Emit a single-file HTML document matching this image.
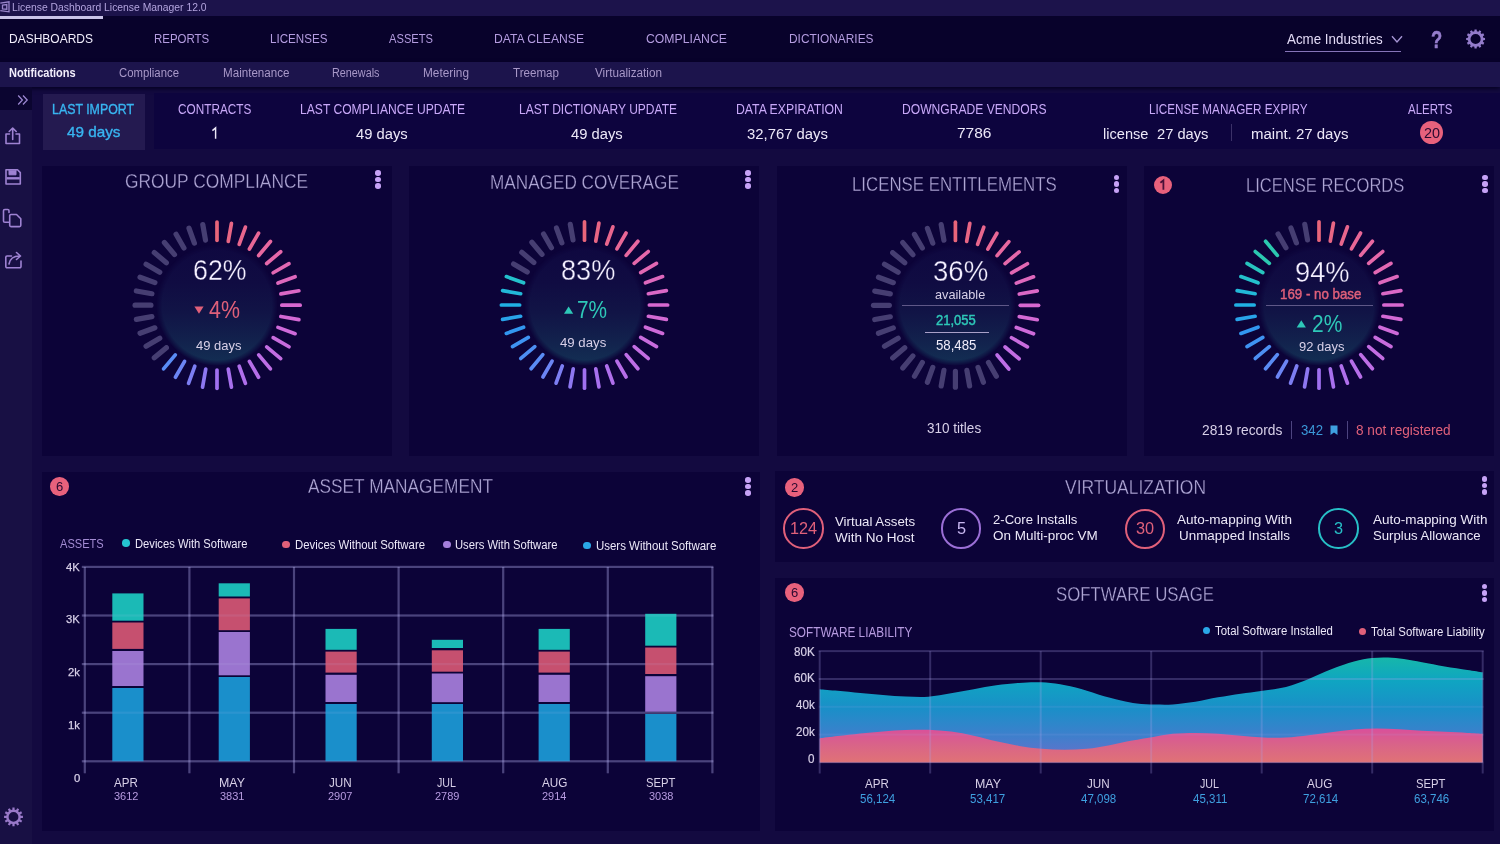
<!DOCTYPE html>
<html><head><meta charset="utf-8"><title>License Dashboard</title>
<style>
html,body{margin:0;padding:0;overflow:hidden;}
html{width:1500px;height:844px;background:#130a40;}
body{width:1500px;height:844px;overflow:hidden;background:#130a40;font-family:"Liberation Sans",sans-serif;position:relative;}
.t{position:absolute;white-space:nowrap;transform-origin:0 50%;}
.r{position:absolute;}
svg{position:absolute;left:0;top:0;overflow:visible;}
</style></head><body>

<div class="r" style="left:0px;top:0px;width:1500px;height:16px;background:#1c134b;"></div>
<div class="r" style="left:0px;top:16px;width:1500px;height:46px;background:#08022b;"></div>
<div class="r" style="left:0px;top:62px;width:1500px;height:24.5px;background:#1c144c;box-shadow:0 2px 4px rgba(4,0,30,0.85);"></div>
<div class="r" style="left:0px;top:16.2px;width:103px;height:2.8px;background:#c9c3e8;"></div>
<div class="t" style="left:12.40px;top:1.82px;font-size:10.8px;line-height:10.8px;color:#b3a4de;transform:scaleX(0.9589);">License Dashboard License Manager 12.0</div>
<div class="t" style="left:8.80px;top:32.31px;font-size:13.5px;line-height:13.5px;color:#f2eefc;transform:scaleX(0.8889);">DASHBOARDS</div>
<div class="t" style="left:154.40px;top:32.31px;font-size:13.5px;line-height:13.5px;color:#b49ce0;transform:scaleX(0.8492);">REPORTS</div>
<div class="t" style="left:270.00px;top:32.31px;font-size:13.5px;line-height:13.5px;color:#b49ce0;transform:scaleX(0.8613);">LICENSES</div>
<div class="t" style="left:389.00px;top:32.31px;font-size:13.5px;line-height:13.5px;color:#b49ce0;transform:scaleX(0.8262);">ASSETS</div>
<div class="t" style="left:494.00px;top:32.31px;font-size:13.5px;line-height:13.5px;color:#b49ce0;transform:scaleX(0.8997);">DATA CLEANSE</div>
<div class="t" style="left:646.00px;top:32.31px;font-size:13.5px;line-height:13.5px;color:#b49ce0;transform:scaleX(0.9070);">COMPLIANCE</div>
<div class="t" style="left:789.00px;top:32.31px;font-size:13.5px;line-height:13.5px;color:#b49ce0;transform:scaleX(0.8803);">DICTIONARIES</div>
<div class="t" style="left:8.80px;top:67.14px;font-size:12px;line-height:12px;color:#f2eefc;font-weight:700;transform:scaleX(0.9180);">Notifications</div>
<div class="t" style="left:119.00px;top:67.14px;font-size:12px;line-height:12px;color:#a898c8;transform:scaleX(0.9470);">Compliance</div>
<div class="t" style="left:222.50px;top:67.14px;font-size:12px;line-height:12px;color:#a898c8;transform:scaleX(0.9680);">Maintenance</div>
<div class="t" style="left:331.50px;top:67.14px;font-size:12px;line-height:12px;color:#a898c8;transform:scaleX(0.9017);">Renewals</div>
<div class="t" style="left:422.50px;top:67.14px;font-size:12px;line-height:12px;color:#a898c8;transform:scaleX(0.9854);">Metering</div>
<div class="t" style="left:512.50px;top:67.14px;font-size:12px;line-height:12px;color:#a898c8;transform:scaleX(0.9668);">Treemap</div>
<div class="t" style="left:595.00px;top:67.14px;font-size:12px;line-height:12px;color:#a898c8;transform:scaleX(0.9787);">Virtualization</div>
<div class="t" style="left:1287.00px;top:32.26px;font-size:14px;line-height:14px;color:#e2daf6;transform:scaleX(0.9544);">Acme Industries</div>
<div class="r" style="left:1285.2px;top:50.9px;width:115.8px;height:1.6px;background:#8574b8;"></div>
<div class="r" style="left:0px;top:86.5px;width:32px;height:757.5px;background:#181044;"></div>
<div class="r" style="left:0px;top:87px;width:32px;height:22.5px;background:#0b0530;"></div>
<div class="r" style="left:42.6px;top:93.5px;width:102.4px;height:56px;background:#241a50;"></div>
<div class="r" style="left:153.5px;top:93px;width:1346.5px;height:55.5px;background:#0d043e;"></div>
<div class="t" style="left:52.10px;top:103.06px;font-size:13.8px;line-height:13.8px;color:#38b4f0;transform:scaleX(0.8973);-webkit-text-stroke:0.35px #38b4f0;">LAST IMPORT</div>
<div class="t" style="left:66.80px;top:125.32px;font-size:14.5px;line-height:14.5px;color:#38b4f0;transform:scaleX(1.0527);-webkit-text-stroke:0.35px #38b4f0;">49 days</div>
<div class="t" style="left:177.50px;top:102.86px;font-size:13.8px;line-height:13.8px;color:#c8a8f8;transform:scaleX(0.8540);">CONTRACTS</div>
<div class="t" style="left:299.80px;top:102.86px;font-size:13.8px;line-height:13.8px;color:#c8a8f8;transform:scaleX(0.8780);">LAST COMPLIANCE UPDATE</div>
<div class="t" style="left:518.50px;top:102.86px;font-size:13.8px;line-height:13.8px;color:#c8a8f8;transform:scaleX(0.8707);">LAST DICTIONARY UPDATE</div>
<div class="t" style="left:736.00px;top:102.86px;font-size:13.8px;line-height:13.8px;color:#c8a8f8;transform:scaleX(0.8887);">DATA EXPIRATION</div>
<div class="t" style="left:901.50px;top:102.86px;font-size:13.8px;line-height:13.8px;color:#c8a8f8;transform:scaleX(0.8766);">DOWNGRADE VENDORS</div>
<div class="t" style="left:1149.00px;top:102.86px;font-size:13.8px;line-height:13.8px;color:#c8a8f8;transform:scaleX(0.8483);">LICENSE MANAGER EXPIRY</div>
<div class="t" style="left:1408.40px;top:102.86px;font-size:13.8px;line-height:13.8px;color:#c8a8f8;transform:scaleX(0.8314);">ALERTS</div>
<svg width="1500" height="844"><path d="M212.4 130.6 L215.6 127.9 V138.8" fill="none" stroke="#ece8f8" stroke-width="1.45" stroke-linejoin="miter"/></svg>
<div class="t" style="left:356.10px;top:125.77px;font-size:15.2px;line-height:15.2px;color:#ece8f8;transform:scaleX(0.9704);">49 days</div>
<div class="t" style="left:571.00px;top:125.77px;font-size:15.2px;line-height:15.2px;color:#ece8f8;transform:scaleX(0.9704);">49 days</div>
<div class="t" style="left:747.00px;top:125.77px;font-size:15.2px;line-height:15.2px;color:#ece8f8;transform:scaleX(0.9778);">32,767 days</div>
<div class="t" style="left:957.00px;top:125.17px;font-size:15.2px;line-height:15.2px;color:#ece8f8;transform:scaleX(1.0201);">7786</div>
<div class="t" style="left:1102.50px;top:125.97px;font-size:15.2px;line-height:15.2px;color:#ece8f8;transform:scaleX(0.9610);">license</div>
<div class="t" style="left:1157.00px;top:125.97px;font-size:15.2px;line-height:15.2px;color:#ece8f8;transform:scaleX(0.9667);">27 days</div>
<div class="t" style="left:1251.00px;top:125.97px;font-size:15.2px;line-height:15.2px;color:#ece8f8;transform:scaleX(0.9861);">maint. 27 days</div>
<div class="r" style="left:1231px;top:124px;width:1px;height:17px;background:#3b3168;"></div>
<div class="r" style="left:1420px;top:121px;width:23px;height:23px;border-radius:50%;background:#e8617c;"></div>
<div class="t" style="left:1423.50px;top:125.76px;font-size:14px;line-height:14px;color:#2a0a30;transform:scaleX(1.0296);">20</div>
<div class="r" style="left:42px;top:166px;width:350.2px;height:290px;background:#0c0338;"></div>
<div class="r" style="left:409px;top:166px;width:350.2px;height:290px;background:#0c0338;"></div>
<div class="r" style="left:777px;top:166px;width:350.2px;height:290px;background:#0c0338;"></div>
<div class="r" style="left:1143.8px;top:166px;width:350.2px;height:290px;background:#0c0338;"></div>
<div class="r" style="left:41.5px;top:471.5px;width:718px;height:359.5px;background:#0c0338;"></div>
<div class="r" style="left:775px;top:471px;width:719px;height:90.5px;background:#0c0338;"></div>
<div class="r" style="left:775px;top:578px;width:719px;height:253px;background:#0c0338;"></div>
<div class="t" style="left:125.10px;top:170.63px;font-size:20px;line-height:20px;color:#aea6d4;transform:scaleX(0.8686);-webkit-text-stroke:0.3px #0c0338;">GROUP COMPLIANCE</div>
<div class="r" style="left:375.05px;top:170.2px;width:5.5px;height:5.5px;border-radius:50%;background:#c6a2f6;"></div>
<div class="r" style="left:375.05px;top:176.8px;width:5.5px;height:5.5px;border-radius:50%;background:#c6a2f6;"></div>
<div class="r" style="left:375.05px;top:183.3px;width:5.5px;height:5.5px;border-radius:50%;background:#c6a2f6;"></div>
<div class="t" style="left:489.90px;top:172.13px;font-size:20px;line-height:20px;color:#aea6d4;transform:scaleX(0.8582);-webkit-text-stroke:0.3px #0c0338;">MANAGED COVERAGE</div>
<div class="r" style="left:745.25px;top:170.2px;width:5.5px;height:5.5px;border-radius:50%;background:#c6a2f6;"></div>
<div class="r" style="left:745.25px;top:176.8px;width:5.5px;height:5.5px;border-radius:50%;background:#c6a2f6;"></div>
<div class="r" style="left:745.25px;top:183.3px;width:5.5px;height:5.5px;border-radius:50%;background:#c6a2f6;"></div>
<div class="t" style="left:851.50px;top:174.03px;font-size:20px;line-height:20px;color:#aea6d4;transform:scaleX(0.8414);-webkit-text-stroke:0.3px #0c0338;">LICENSE ENTITLEMENTS</div>
<div class="r" style="left:1113.75px;top:174.8px;width:5.5px;height:5.5px;border-radius:50%;background:#c6a2f6;"></div>
<div class="r" style="left:1113.75px;top:181.3px;width:5.5px;height:5.5px;border-radius:50%;background:#c6a2f6;"></div>
<div class="r" style="left:1113.75px;top:187.9px;width:5.5px;height:5.5px;border-radius:50%;background:#c6a2f6;"></div>
<div class="t" style="left:1246.10px;top:175.13px;font-size:20px;line-height:20px;color:#aea6d4;transform:scaleX(0.8285);-webkit-text-stroke:0.3px #0c0338;">LICENSE RECORDS</div>
<div class="r" style="left:1482.05px;top:174.6px;width:5.5px;height:5.5px;border-radius:50%;background:#c6a2f6;"></div>
<div class="r" style="left:1482.05px;top:181.2px;width:5.5px;height:5.5px;border-radius:50%;background:#c6a2f6;"></div>
<div class="r" style="left:1482.05px;top:187.8px;width:5.5px;height:5.5px;border-radius:50%;background:#c6a2f6;"></div>
<div class="r" style="left:1153.7px;top:175.5px;width:18.6px;height:18.6px;border-radius:50%;background:#e8617c;"></div>
<svg width="1500" height="844"><path d="M1160.4 182.8 L1163.4 180.4 V189.7" fill="none" stroke="#4a1038" stroke-width="1.8"/></svg>
<div class="t" style="left:308.00px;top:475.93px;font-size:20px;line-height:20px;color:#aea6d4;transform:scaleX(0.8641);-webkit-text-stroke:0.3px #0c0338;">ASSET MANAGEMENT</div>
<div class="r" style="left:745.45px;top:477.0px;width:5.5px;height:5.5px;border-radius:50%;background:#c6a2f6;"></div>
<div class="r" style="left:745.45px;top:483.6px;width:5.5px;height:5.5px;border-radius:50%;background:#c6a2f6;"></div>
<div class="r" style="left:745.45px;top:490.2px;width:5.5px;height:5.5px;border-radius:50%;background:#c6a2f6;"></div>
<div class="r" style="left:50.2px;top:477.2px;width:18.6px;height:18.6px;border-radius:50%;background:#e8617c;"></div>
<div class="t" style="left:55.88px;top:480.45px;font-size:13px;line-height:13px;color:#2a0a30;transform:scaleX(1.0021);">6</div>
<div class="t" style="left:1065.00px;top:476.93px;font-size:20px;line-height:20px;color:#aea6d4;transform:scaleX(0.8731);-webkit-text-stroke:0.3px #0c0338;">VIRTUALIZATION</div>
<div class="r" style="left:1481.95px;top:476.0px;width:5.5px;height:5.5px;border-radius:50%;background:#c6a2f6;"></div>
<div class="r" style="left:1481.95px;top:482.6px;width:5.5px;height:5.5px;border-radius:50%;background:#c6a2f6;"></div>
<div class="r" style="left:1481.95px;top:489.2px;width:5.5px;height:5.5px;border-radius:50%;background:#c6a2f6;"></div>
<div class="r" style="left:785.1px;top:478.1px;width:18.6px;height:18.6px;border-radius:50%;background:#e8617c;"></div>
<div class="t" style="left:790.78px;top:481.35px;font-size:13px;line-height:13px;color:#2a0a30;transform:scaleX(1.0021);">2</div>
<div class="t" style="left:1056.00px;top:583.93px;font-size:20px;line-height:20px;color:#aea6d4;transform:scaleX(0.8395);-webkit-text-stroke:0.3px #0c0338;">SOFTWARE USAGE</div>
<div class="r" style="left:1481.95px;top:583.6px;width:5.5px;height:5.5px;border-radius:50%;background:#c6a2f6;"></div>
<div class="r" style="left:1481.95px;top:590.2px;width:5.5px;height:5.5px;border-radius:50%;background:#c6a2f6;"></div>
<div class="r" style="left:1481.95px;top:596.9px;width:5.5px;height:5.5px;border-radius:50%;background:#c6a2f6;"></div>
<div class="r" style="left:785.1px;top:583.1px;width:18.6px;height:18.6px;border-radius:50%;background:#e8617c;"></div>
<div class="t" style="left:790.78px;top:586.35px;font-size:13px;line-height:13px;color:#2a0a30;transform:scaleX(1.0021);">6</div>
<div class="r" style="left:156px;top:244.2px;width:122px;height:122px;border-radius:50%;background:linear-gradient(180deg,#0f0840 0%,#100c42 32%,#111446 56%,#12224d 80%,#133054 100%);-webkit-mask-image:radial-gradient(circle closest-side,#000 90%,transparent 100%);mask-image:radial-gradient(circle closest-side,#000 90%,transparent 100%);"></div>
<svg width="1500" height="844"><line x1="217.00" y1="240.35" x2="217.00" y2="222.05" stroke="#e8657a" stroke-width="3.7" stroke-linecap="round" opacity="1"/><line x1="228.26" y1="241.34" x2="231.44" y2="223.31" stroke="#e86684" stroke-width="3.7" stroke-linecap="round" opacity="1"/><line x1="239.18" y1="244.26" x2="245.44" y2="227.06" stroke="#e8668d" stroke-width="3.7" stroke-linecap="round" opacity="1"/><line x1="249.42" y1="249.04" x2="258.57" y2="233.19" stroke="#e86796" stroke-width="3.7" stroke-linecap="round" opacity="1"/><line x1="258.68" y1="255.52" x2="270.45" y2="241.50" stroke="#e868a0" stroke-width="3.7" stroke-linecap="round" opacity="1"/><line x1="266.68" y1="263.52" x2="280.70" y2="251.75" stroke="#e568aa" stroke-width="3.7" stroke-linecap="round" opacity="1"/><line x1="273.16" y1="272.77" x2="289.01" y2="263.62" stroke="#e268b3" stroke-width="3.7" stroke-linecap="round" opacity="1"/><line x1="277.94" y1="283.02" x2="295.14" y2="276.76" stroke="#de68bd" stroke-width="3.7" stroke-linecap="round" opacity="1"/><line x1="280.86" y1="293.94" x2="298.89" y2="290.76" stroke="#db68c6" stroke-width="3.7" stroke-linecap="round" opacity="1"/><line x1="281.85" y1="305.20" x2="300.15" y2="305.20" stroke="#d868d0" stroke-width="3.7" stroke-linecap="round" opacity="1"/><line x1="280.86" y1="316.46" x2="298.89" y2="319.64" stroke="#d369d4" stroke-width="3.7" stroke-linecap="round" opacity="1"/><line x1="277.94" y1="327.38" x2="295.14" y2="333.64" stroke="#ce6ad9" stroke-width="3.7" stroke-linecap="round" opacity="1"/><line x1="273.16" y1="337.62" x2="289.01" y2="346.77" stroke="#c86cdd" stroke-width="3.7" stroke-linecap="round" opacity="1"/><line x1="266.68" y1="346.88" x2="280.70" y2="358.65" stroke="#c36de2" stroke-width="3.7" stroke-linecap="round" opacity="1"/><line x1="258.68" y1="354.88" x2="270.45" y2="368.90" stroke="#be6ee6" stroke-width="3.7" stroke-linecap="round" opacity="1"/><line x1="249.42" y1="361.36" x2="258.57" y2="377.21" stroke="#b66ee8" stroke-width="3.7" stroke-linecap="round" opacity="1"/><line x1="239.18" y1="366.14" x2="245.44" y2="383.34" stroke="#af6feb" stroke-width="3.7" stroke-linecap="round" opacity="1"/><line x1="228.26" y1="369.06" x2="231.44" y2="387.09" stroke="#a870ee" stroke-width="3.7" stroke-linecap="round" opacity="1"/><line x1="217.00" y1="370.05" x2="217.00" y2="388.35" stroke="#a070f0" stroke-width="3.7" stroke-linecap="round" opacity="1"/><line x1="205.74" y1="369.06" x2="202.56" y2="387.09" stroke="#8e77f1" stroke-width="3.7" stroke-linecap="round" opacity="1"/><line x1="194.82" y1="366.14" x2="188.56" y2="383.34" stroke="#7d7ef2" stroke-width="3.7" stroke-linecap="round" opacity="1"/><line x1="184.57" y1="361.36" x2="175.42" y2="377.21" stroke="#6c85f4" stroke-width="3.7" stroke-linecap="round" opacity="1"/><line x1="175.32" y1="354.88" x2="163.55" y2="368.90" stroke="#5a8cf5" stroke-width="3.7" stroke-linecap="round" opacity="1"/><line x1="166.36" y1="347.69" x2="154.26" y2="357.84" stroke="#4a4276" stroke-width="5.2" stroke-linecap="round" opacity="0.95"/><line x1="159.76" y1="338.25" x2="146.07" y2="346.15" stroke="#4a4276" stroke-width="5.2" stroke-linecap="round" opacity="0.95"/><line x1="154.89" y1="327.81" x2="140.04" y2="333.21" stroke="#4a4276" stroke-width="5.2" stroke-linecap="round" opacity="0.95"/><line x1="151.90" y1="316.68" x2="136.34" y2="319.42" stroke="#4a4276" stroke-width="5.2" stroke-linecap="round" opacity="0.95"/><line x1="150.90" y1="305.20" x2="135.10" y2="305.20" stroke="#4a4276" stroke-width="5.2" stroke-linecap="round" opacity="0.95"/><line x1="151.90" y1="293.72" x2="136.34" y2="290.98" stroke="#4a4276" stroke-width="5.2" stroke-linecap="round" opacity="0.95"/><line x1="154.89" y1="282.59" x2="140.04" y2="277.19" stroke="#4a4276" stroke-width="5.2" stroke-linecap="round" opacity="0.95"/><line x1="159.76" y1="272.15" x2="146.07" y2="264.25" stroke="#4a4276" stroke-width="5.2" stroke-linecap="round" opacity="0.95"/><line x1="166.36" y1="262.71" x2="154.26" y2="252.56" stroke="#4a4276" stroke-width="5.2" stroke-linecap="round" opacity="0.95"/><line x1="174.51" y1="254.56" x2="164.36" y2="242.46" stroke="#4a4276" stroke-width="5.2" stroke-linecap="round" opacity="0.95"/><line x1="183.95" y1="247.96" x2="176.05" y2="234.27" stroke="#4a4276" stroke-width="5.2" stroke-linecap="round" opacity="0.95"/><line x1="194.39" y1="243.09" x2="188.99" y2="228.24" stroke="#4a4276" stroke-width="5.2" stroke-linecap="round" opacity="0.95"/><line x1="205.52" y1="240.10" x2="202.78" y2="224.54" stroke="#4a4276" stroke-width="5.2" stroke-linecap="round" opacity="0.95"/></svg>
<div class="r" style="left:523.5px;top:244px;width:122px;height:122px;border-radius:50%;background:linear-gradient(180deg,#0f0840 0%,#100c42 32%,#111446 56%,#12224d 80%,#133054 100%);-webkit-mask-image:radial-gradient(circle closest-side,#000 90%,transparent 100%);mask-image:radial-gradient(circle closest-side,#000 90%,transparent 100%);"></div>
<svg width="1500" height="844"><line x1="584.50" y1="240.15" x2="584.50" y2="221.85" stroke="#e8657a" stroke-width="3.7" stroke-linecap="round" opacity="1"/><line x1="595.76" y1="241.14" x2="598.94" y2="223.11" stroke="#e86684" stroke-width="3.7" stroke-linecap="round" opacity="1"/><line x1="606.68" y1="244.06" x2="612.94" y2="226.86" stroke="#e8668d" stroke-width="3.7" stroke-linecap="round" opacity="1"/><line x1="616.92" y1="248.84" x2="626.08" y2="232.99" stroke="#e86796" stroke-width="3.7" stroke-linecap="round" opacity="1"/><line x1="626.18" y1="255.32" x2="637.95" y2="241.30" stroke="#e868a0" stroke-width="3.7" stroke-linecap="round" opacity="1"/><line x1="634.18" y1="263.32" x2="648.20" y2="251.55" stroke="#e568aa" stroke-width="3.7" stroke-linecap="round" opacity="1"/><line x1="640.66" y1="272.57" x2="656.51" y2="263.43" stroke="#e268b3" stroke-width="3.7" stroke-linecap="round" opacity="1"/><line x1="645.44" y1="282.82" x2="662.64" y2="276.56" stroke="#de68bd" stroke-width="3.7" stroke-linecap="round" opacity="1"/><line x1="648.36" y1="293.74" x2="666.39" y2="290.56" stroke="#db68c6" stroke-width="3.7" stroke-linecap="round" opacity="1"/><line x1="649.35" y1="305.00" x2="667.65" y2="305.00" stroke="#d868d0" stroke-width="3.7" stroke-linecap="round" opacity="1"/><line x1="648.36" y1="316.26" x2="666.39" y2="319.44" stroke="#d369d4" stroke-width="3.7" stroke-linecap="round" opacity="1"/><line x1="645.44" y1="327.18" x2="662.64" y2="333.44" stroke="#ce6ad9" stroke-width="3.7" stroke-linecap="round" opacity="1"/><line x1="640.66" y1="337.42" x2="656.51" y2="346.57" stroke="#c86cdd" stroke-width="3.7" stroke-linecap="round" opacity="1"/><line x1="634.18" y1="346.68" x2="648.20" y2="358.45" stroke="#c36de2" stroke-width="3.7" stroke-linecap="round" opacity="1"/><line x1="626.18" y1="354.68" x2="637.95" y2="368.70" stroke="#be6ee6" stroke-width="3.7" stroke-linecap="round" opacity="1"/><line x1="616.92" y1="361.16" x2="626.08" y2="377.01" stroke="#b66ee8" stroke-width="3.7" stroke-linecap="round" opacity="1"/><line x1="606.68" y1="365.94" x2="612.94" y2="383.14" stroke="#af6feb" stroke-width="3.7" stroke-linecap="round" opacity="1"/><line x1="595.76" y1="368.86" x2="598.94" y2="386.89" stroke="#a870ee" stroke-width="3.7" stroke-linecap="round" opacity="1"/><line x1="584.50" y1="369.85" x2="584.50" y2="388.15" stroke="#a070f0" stroke-width="3.7" stroke-linecap="round" opacity="1"/><line x1="573.24" y1="368.86" x2="570.06" y2="386.89" stroke="#8e77f1" stroke-width="3.7" stroke-linecap="round" opacity="1"/><line x1="562.32" y1="365.94" x2="556.06" y2="383.14" stroke="#7d7ef2" stroke-width="3.7" stroke-linecap="round" opacity="1"/><line x1="552.08" y1="361.16" x2="542.92" y2="377.01" stroke="#6c85f4" stroke-width="3.7" stroke-linecap="round" opacity="1"/><line x1="542.82" y1="354.68" x2="531.05" y2="368.70" stroke="#5a8cf5" stroke-width="3.7" stroke-linecap="round" opacity="1"/><line x1="534.82" y1="346.68" x2="520.80" y2="358.45" stroke="#4d8ff3" stroke-width="3.7" stroke-linecap="round" opacity="1"/><line x1="528.34" y1="337.43" x2="512.49" y2="346.58" stroke="#3f93f2" stroke-width="3.7" stroke-linecap="round" opacity="1"/><line x1="523.56" y1="327.18" x2="506.36" y2="333.44" stroke="#3296f0" stroke-width="3.7" stroke-linecap="round" opacity="1"/><line x1="520.64" y1="316.26" x2="502.61" y2="319.44" stroke="#29a3ea" stroke-width="3.7" stroke-linecap="round" opacity="1"/><line x1="519.65" y1="305.00" x2="501.35" y2="305.00" stroke="#20b0e4" stroke-width="3.7" stroke-linecap="round" opacity="1"/><line x1="520.64" y1="293.74" x2="502.61" y2="290.56" stroke="#22b8d8" stroke-width="3.7" stroke-linecap="round" opacity="1"/><line x1="523.56" y1="282.82" x2="506.36" y2="276.56" stroke="#24c0cc" stroke-width="3.7" stroke-linecap="round" opacity="1"/><line x1="527.26" y1="271.95" x2="513.57" y2="264.05" stroke="#4a4276" stroke-width="5.2" stroke-linecap="round" opacity="0.95"/><line x1="533.86" y1="262.51" x2="521.76" y2="252.36" stroke="#4a4276" stroke-width="5.2" stroke-linecap="round" opacity="0.95"/><line x1="542.01" y1="254.36" x2="531.86" y2="242.26" stroke="#4a4276" stroke-width="5.2" stroke-linecap="round" opacity="0.95"/><line x1="551.45" y1="247.76" x2="543.55" y2="234.07" stroke="#4a4276" stroke-width="5.2" stroke-linecap="round" opacity="0.95"/><line x1="561.89" y1="242.89" x2="556.49" y2="228.04" stroke="#4a4276" stroke-width="5.2" stroke-linecap="round" opacity="0.95"/><line x1="573.02" y1="239.90" x2="570.28" y2="224.34" stroke="#4a4276" stroke-width="5.2" stroke-linecap="round" opacity="0.95"/></svg>
<div class="r" style="left:894.4px;top:244.3px;width:122px;height:122px;border-radius:50%;background:linear-gradient(180deg,#0f0840 0%,#100c42 32%,#111446 56%,#12224d 80%,#133054 100%);-webkit-mask-image:radial-gradient(circle closest-side,#000 90%,transparent 100%);mask-image:radial-gradient(circle closest-side,#000 90%,transparent 100%);"></div>
<svg width="1500" height="844"><line x1="955.40" y1="240.45" x2="955.40" y2="222.15" stroke="#e8657a" stroke-width="3.7" stroke-linecap="round" opacity="1"/><line x1="966.66" y1="241.44" x2="969.84" y2="223.41" stroke="#e86684" stroke-width="3.7" stroke-linecap="round" opacity="1"/><line x1="977.58" y1="244.36" x2="983.84" y2="227.16" stroke="#e8668d" stroke-width="3.7" stroke-linecap="round" opacity="1"/><line x1="987.82" y1="249.14" x2="996.98" y2="233.29" stroke="#e86796" stroke-width="3.7" stroke-linecap="round" opacity="1"/><line x1="997.08" y1="255.62" x2="1008.85" y2="241.60" stroke="#e868a0" stroke-width="3.7" stroke-linecap="round" opacity="1"/><line x1="1005.08" y1="263.62" x2="1019.10" y2="251.85" stroke="#e568aa" stroke-width="3.7" stroke-linecap="round" opacity="1"/><line x1="1011.56" y1="272.88" x2="1027.41" y2="263.73" stroke="#e268b3" stroke-width="3.7" stroke-linecap="round" opacity="1"/><line x1="1016.34" y1="283.12" x2="1033.54" y2="276.86" stroke="#de68bd" stroke-width="3.7" stroke-linecap="round" opacity="1"/><line x1="1019.26" y1="294.04" x2="1037.29" y2="290.86" stroke="#db68c6" stroke-width="3.7" stroke-linecap="round" opacity="1"/><line x1="1020.25" y1="305.30" x2="1038.55" y2="305.30" stroke="#d868d0" stroke-width="3.7" stroke-linecap="round" opacity="1"/><line x1="1019.26" y1="316.56" x2="1037.29" y2="319.74" stroke="#d369d4" stroke-width="3.7" stroke-linecap="round" opacity="1"/><line x1="1016.34" y1="327.48" x2="1033.54" y2="333.74" stroke="#ce6ad9" stroke-width="3.7" stroke-linecap="round" opacity="1"/><line x1="1011.56" y1="337.73" x2="1027.41" y2="346.88" stroke="#c86cdd" stroke-width="3.7" stroke-linecap="round" opacity="1"/><line x1="1005.08" y1="346.98" x2="1019.10" y2="358.75" stroke="#c36de2" stroke-width="3.7" stroke-linecap="round" opacity="1"/><line x1="997.08" y1="354.98" x2="1008.85" y2="369.00" stroke="#be6ee6" stroke-width="3.7" stroke-linecap="round" opacity="1"/><line x1="988.45" y1="362.54" x2="996.35" y2="376.23" stroke="#4a4276" stroke-width="5.2" stroke-linecap="round" opacity="0.95"/><line x1="978.01" y1="367.41" x2="983.41" y2="382.26" stroke="#4a4276" stroke-width="5.2" stroke-linecap="round" opacity="0.95"/><line x1="966.88" y1="370.40" x2="969.62" y2="385.96" stroke="#4a4276" stroke-width="5.2" stroke-linecap="round" opacity="0.95"/><line x1="955.40" y1="371.40" x2="955.40" y2="387.20" stroke="#4a4276" stroke-width="5.2" stroke-linecap="round" opacity="0.95"/><line x1="943.92" y1="370.40" x2="941.18" y2="385.96" stroke="#4a4276" stroke-width="5.2" stroke-linecap="round" opacity="0.95"/><line x1="932.79" y1="367.41" x2="927.39" y2="382.26" stroke="#4a4276" stroke-width="5.2" stroke-linecap="round" opacity="0.95"/><line x1="922.35" y1="362.54" x2="914.45" y2="376.23" stroke="#4a4276" stroke-width="5.2" stroke-linecap="round" opacity="0.95"/><line x1="912.91" y1="355.94" x2="902.76" y2="368.04" stroke="#4a4276" stroke-width="5.2" stroke-linecap="round" opacity="0.95"/><line x1="904.76" y1="347.79" x2="892.66" y2="357.94" stroke="#4a4276" stroke-width="5.2" stroke-linecap="round" opacity="0.95"/><line x1="898.16" y1="338.35" x2="884.47" y2="346.25" stroke="#4a4276" stroke-width="5.2" stroke-linecap="round" opacity="0.95"/><line x1="893.29" y1="327.91" x2="878.44" y2="333.31" stroke="#4a4276" stroke-width="5.2" stroke-linecap="round" opacity="0.95"/><line x1="890.30" y1="316.78" x2="874.74" y2="319.52" stroke="#4a4276" stroke-width="5.2" stroke-linecap="round" opacity="0.95"/><line x1="889.30" y1="305.30" x2="873.50" y2="305.30" stroke="#4a4276" stroke-width="5.2" stroke-linecap="round" opacity="0.95"/><line x1="890.30" y1="293.82" x2="874.74" y2="291.08" stroke="#4a4276" stroke-width="5.2" stroke-linecap="round" opacity="0.95"/><line x1="893.29" y1="282.69" x2="878.44" y2="277.29" stroke="#4a4276" stroke-width="5.2" stroke-linecap="round" opacity="0.95"/><line x1="898.16" y1="272.25" x2="884.47" y2="264.35" stroke="#4a4276" stroke-width="5.2" stroke-linecap="round" opacity="0.95"/><line x1="904.76" y1="262.81" x2="892.66" y2="252.66" stroke="#4a4276" stroke-width="5.2" stroke-linecap="round" opacity="0.95"/><line x1="912.91" y1="254.66" x2="902.76" y2="242.56" stroke="#4a4276" stroke-width="5.2" stroke-linecap="round" opacity="0.95"/><line x1="922.35" y1="248.06" x2="914.45" y2="234.37" stroke="#4a4276" stroke-width="5.2" stroke-linecap="round" opacity="0.95"/><line x1="932.79" y1="243.19" x2="927.39" y2="228.34" stroke="#4a4276" stroke-width="5.2" stroke-linecap="round" opacity="0.95"/><line x1="943.92" y1="240.20" x2="941.18" y2="224.64" stroke="#4a4276" stroke-width="5.2" stroke-linecap="round" opacity="0.95"/></svg>
<div class="r" style="left:1258px;top:244px;width:122px;height:122px;border-radius:50%;background:linear-gradient(180deg,#0f0840 0%,#100c42 32%,#111446 56%,#12224d 80%,#133054 100%);-webkit-mask-image:radial-gradient(circle closest-side,#000 90%,transparent 100%);mask-image:radial-gradient(circle closest-side,#000 90%,transparent 100%);"></div>
<svg width="1500" height="844"><line x1="1319.00" y1="240.15" x2="1319.00" y2="221.85" stroke="#e8657a" stroke-width="3.7" stroke-linecap="round" opacity="1"/><line x1="1330.26" y1="241.14" x2="1333.44" y2="223.11" stroke="#e86684" stroke-width="3.7" stroke-linecap="round" opacity="1"/><line x1="1341.18" y1="244.06" x2="1347.44" y2="226.86" stroke="#e8668d" stroke-width="3.7" stroke-linecap="round" opacity="1"/><line x1="1351.42" y1="248.84" x2="1360.58" y2="232.99" stroke="#e86796" stroke-width="3.7" stroke-linecap="round" opacity="1"/><line x1="1360.68" y1="255.32" x2="1372.45" y2="241.30" stroke="#e868a0" stroke-width="3.7" stroke-linecap="round" opacity="1"/><line x1="1368.68" y1="263.32" x2="1382.70" y2="251.55" stroke="#e568aa" stroke-width="3.7" stroke-linecap="round" opacity="1"/><line x1="1375.16" y1="272.57" x2="1391.01" y2="263.43" stroke="#e268b3" stroke-width="3.7" stroke-linecap="round" opacity="1"/><line x1="1379.94" y1="282.82" x2="1397.14" y2="276.56" stroke="#de68bd" stroke-width="3.7" stroke-linecap="round" opacity="1"/><line x1="1382.86" y1="293.74" x2="1400.89" y2="290.56" stroke="#db68c6" stroke-width="3.7" stroke-linecap="round" opacity="1"/><line x1="1383.85" y1="305.00" x2="1402.15" y2="305.00" stroke="#d868d0" stroke-width="3.7" stroke-linecap="round" opacity="1"/><line x1="1382.86" y1="316.26" x2="1400.89" y2="319.44" stroke="#d369d4" stroke-width="3.7" stroke-linecap="round" opacity="1"/><line x1="1379.94" y1="327.18" x2="1397.14" y2="333.44" stroke="#ce6ad9" stroke-width="3.7" stroke-linecap="round" opacity="1"/><line x1="1375.16" y1="337.42" x2="1391.01" y2="346.57" stroke="#c86cdd" stroke-width="3.7" stroke-linecap="round" opacity="1"/><line x1="1368.68" y1="346.68" x2="1382.70" y2="358.45" stroke="#c36de2" stroke-width="3.7" stroke-linecap="round" opacity="1"/><line x1="1360.68" y1="354.68" x2="1372.45" y2="368.70" stroke="#be6ee6" stroke-width="3.7" stroke-linecap="round" opacity="1"/><line x1="1351.42" y1="361.16" x2="1360.58" y2="377.01" stroke="#b66ee8" stroke-width="3.7" stroke-linecap="round" opacity="1"/><line x1="1341.18" y1="365.94" x2="1347.44" y2="383.14" stroke="#af6feb" stroke-width="3.7" stroke-linecap="round" opacity="1"/><line x1="1330.26" y1="368.86" x2="1333.44" y2="386.89" stroke="#a870ee" stroke-width="3.7" stroke-linecap="round" opacity="1"/><line x1="1319.00" y1="369.85" x2="1319.00" y2="388.15" stroke="#a070f0" stroke-width="3.7" stroke-linecap="round" opacity="1"/><line x1="1307.74" y1="368.86" x2="1304.56" y2="386.89" stroke="#8e77f1" stroke-width="3.7" stroke-linecap="round" opacity="1"/><line x1="1296.82" y1="365.94" x2="1290.56" y2="383.14" stroke="#7d7ef2" stroke-width="3.7" stroke-linecap="round" opacity="1"/><line x1="1286.58" y1="361.16" x2="1277.42" y2="377.01" stroke="#6c85f4" stroke-width="3.7" stroke-linecap="round" opacity="1"/><line x1="1277.32" y1="354.68" x2="1265.55" y2="368.70" stroke="#5a8cf5" stroke-width="3.7" stroke-linecap="round" opacity="1"/><line x1="1269.32" y1="346.68" x2="1255.30" y2="358.45" stroke="#4d8ff3" stroke-width="3.7" stroke-linecap="round" opacity="1"/><line x1="1262.84" y1="337.43" x2="1246.99" y2="346.58" stroke="#3f93f2" stroke-width="3.7" stroke-linecap="round" opacity="1"/><line x1="1258.06" y1="327.18" x2="1240.86" y2="333.44" stroke="#3296f0" stroke-width="3.7" stroke-linecap="round" opacity="1"/><line x1="1255.14" y1="316.26" x2="1237.11" y2="319.44" stroke="#29a3ea" stroke-width="3.7" stroke-linecap="round" opacity="1"/><line x1="1254.15" y1="305.00" x2="1235.85" y2="305.00" stroke="#20b0e4" stroke-width="3.7" stroke-linecap="round" opacity="1"/><line x1="1255.14" y1="293.74" x2="1237.11" y2="290.56" stroke="#22b8d8" stroke-width="3.7" stroke-linecap="round" opacity="1"/><line x1="1258.06" y1="282.82" x2="1240.86" y2="276.56" stroke="#24c0cc" stroke-width="3.7" stroke-linecap="round" opacity="1"/><line x1="1262.84" y1="272.57" x2="1246.99" y2="263.43" stroke="#28c4be" stroke-width="3.7" stroke-linecap="round" opacity="1"/><line x1="1269.32" y1="263.32" x2="1255.30" y2="251.55" stroke="#2cc8b0" stroke-width="3.7" stroke-linecap="round" opacity="1"/><line x1="1277.32" y1="255.32" x2="1265.55" y2="241.30" stroke="#2cc8af" stroke-width="3.7" stroke-linecap="round" opacity="1"/><line x1="1285.95" y1="247.76" x2="1278.05" y2="234.07" stroke="#4a4276" stroke-width="5.2" stroke-linecap="round" opacity="0.95"/><line x1="1296.39" y1="242.89" x2="1290.99" y2="228.04" stroke="#4a4276" stroke-width="5.2" stroke-linecap="round" opacity="0.95"/><line x1="1307.52" y1="239.90" x2="1304.78" y2="224.34" stroke="#4a4276" stroke-width="5.2" stroke-linecap="round" opacity="0.95"/></svg>
<div class="t" style="left:192.90px;top:255.04px;font-size:30px;line-height:30px;color:#f4f0ff;transform:scaleX(0.8917);-webkit-text-stroke:0.35px #0e0840;">62%</div>
<svg width="1500" height="844"><polygon points="194.4,306.55 203.6,306.55 199,313.84999999999997" fill="#e0607a"/></svg>
<div class="t" style="left:209.40px;top:299.16px;font-size:23px;line-height:23px;color:#e0607a;transform:scaleX(0.9297);">4%</div>
<div class="t" style="left:196.10px;top:339.01px;font-size:13.5px;line-height:13.5px;color:#d8d0e8;transform:scaleX(0.9616);">49 days</div>
<div class="t" style="left:560.90px;top:255.04px;font-size:30px;line-height:30px;color:#f4f0ff;transform:scaleX(0.9050);-webkit-text-stroke:0.35px #0e0840;">83%</div>
<svg width="1500" height="844"><polygon points="564.0,313.75 573.2,313.75 568.6,306.45000000000005" fill="#2ec8b8"/></svg>
<div class="t" style="left:576.60px;top:298.96px;font-size:23px;line-height:23px;color:#2ec8b8;transform:scaleX(0.9057);">7%</div>
<div class="t" style="left:560.40px;top:336.11px;font-size:13.5px;line-height:13.5px;color:#d8d0e8;transform:scaleX(0.9785);">49 days</div>
<div class="t" style="left:933.20px;top:256.35px;font-size:30px;line-height:30px;color:#f4f0ff;transform:scaleX(0.9200);-webkit-text-stroke:0.35px #0e0840;">36%</div>
<div class="t" style="left:934.80px;top:287.61px;font-size:13.5px;line-height:13.5px;color:#d8d0e8;transform:scaleX(0.9426);">available</div>
<div class="r" style="left:901.7px;top:305.2px;width:107px;height:1px;background:#5f5888;"></div>
<div class="t" style="left:935.90px;top:312.56px;font-size:14px;line-height:14px;color:#2ec8b8;transform:scaleX(0.9290);-webkit-text-stroke:0.45px #2ec8b8;">21,055</div>
<div class="r" style="left:925.3px;top:332.2px;width:63.5px;height:1px;background:#a8a0c8;"></div>
<div class="t" style="left:936.20px;top:338.26px;font-size:14px;line-height:14px;color:#f0ecfa;transform:scaleX(0.9430);">58,485</div>
<div class="t" style="left:927.40px;top:420.56px;font-size:14px;line-height:14px;color:#d8d0e8;transform:scaleX(0.9666);">310 titles</div>
<div class="t" style="left:1294.60px;top:256.85px;font-size:30px;line-height:30px;color:#f4f0ff;transform:scaleX(0.9100);-webkit-text-stroke:0.35px #0e0840;">94%</div>
<div class="t" style="left:1279.80px;top:287.01px;font-size:14.3px;line-height:14.3px;color:#e0607a;transform:scaleX(0.9309);-webkit-text-stroke:0.45px #e0607a;">169 - no base</div>
<div class="r" style="left:1266.2px;top:305px;width:107px;height:1px;background:#5f5888;"></div>
<svg width="1500" height="844"><polygon points="1296.7,327.45 1305.8999999999999,327.45 1301.3,320.15000000000003" fill="#2ec8b8"/></svg>
<div class="t" style="left:1312.40px;top:313.16px;font-size:23px;line-height:23px;color:#2ec8b8;transform:scaleX(0.9117);">2%</div>
<div class="t" style="left:1299.20px;top:339.81px;font-size:13.5px;line-height:13.5px;color:#d8d0e8;transform:scaleX(0.9595);">92 days</div>
<div class="t" style="left:1201.80px;top:422.96px;font-size:14px;line-height:14px;color:#d8d0e8;transform:scaleX(0.9830);">2819 records</div>
<div class="r" style="left:1291.3px;top:421px;width:1px;height:18px;background:#4d4480;"></div>
<div class="r" style="left:1347px;top:421px;width:1px;height:18px;background:#4d4480;"></div>
<div class="t" style="left:1301.00px;top:423.16px;font-size:14px;line-height:14px;color:#3b98d8;transform:scaleX(0.9410);">342</div>
<svg width="1500" height="844"><path d="M1330.5 425.5 h7 v9.5 l-3.5 -2.6 l-3.5 2.6 z" fill="#3fa0e0"/></svg>
<div class="t" style="left:1356.00px;top:422.96px;font-size:14px;line-height:14px;color:#e0607a;transform:scaleX(0.9733);">8 not registered</div>
<svg width="1500" height="844"><rect x="81.8" y="760.2" width="631.5999999999999" height="2.2" fill="rgba(170,165,235,0.31)"/><rect x="81.8" y="711.6" width="631.5999999999999" height="2.2" fill="rgba(170,165,235,0.31)"/><rect x="81.8" y="663.0" width="631.5999999999999" height="2.2" fill="rgba(170,165,235,0.31)"/><rect x="81.8" y="614.4" width="631.5999999999999" height="2.2" fill="rgba(170,165,235,0.31)"/><rect x="81.8" y="565.8" width="631.5999999999999" height="2.2" fill="rgba(170,165,235,0.31)"/><rect x="83.7" y="566.9" width="2.2" height="206.4" fill="rgba(170,165,235,0.31)"/><rect x="188.3" y="566.9" width="2.2" height="206.4" fill="rgba(170,165,235,0.31)"/><rect x="292.9" y="566.9" width="2.2" height="206.4" fill="rgba(170,165,235,0.31)"/><rect x="397.5" y="566.9" width="2.2" height="206.4" fill="rgba(170,165,235,0.31)"/><rect x="502.1" y="566.9" width="2.2" height="206.4" fill="rgba(170,165,235,0.31)"/><rect x="606.7" y="566.9" width="2.2" height="206.4" fill="rgba(170,165,235,0.31)"/><rect x="711.3" y="566.9" width="2.2" height="206.4" fill="rgba(170,165,235,0.31)"/><rect x="112.3" y="688" width="31.2" height="73.3" fill="#1a8fcb"/><rect x="112.3" y="651" width="31.2" height="35.0" fill="#9a74cf"/><rect x="112.3" y="622.5" width="31.2" height="26.4" fill="#c6506f"/><rect x="112.3" y="593.4" width="31.2" height="27.3" fill="#1bbab6"/><rect x="218.7" y="677" width="31.2" height="84.3" fill="#1a8fcb"/><rect x="218.7" y="632" width="31.2" height="43.3" fill="#9a74cf"/><rect x="218.7" y="598.4" width="31.2" height="31.8" fill="#c6506f"/><rect x="218.7" y="583.3" width="31.2" height="13.2" fill="#1bbab6"/><rect x="325.5" y="704" width="31.2" height="57.3" fill="#1a8fcb"/><rect x="325.5" y="674.8" width="31.2" height="27.2" fill="#9a74cf"/><rect x="325.5" y="651.6" width="31.2" height="21.0" fill="#c6506f"/><rect x="325.5" y="628.9" width="31.2" height="20.9" fill="#1bbab6"/><rect x="431.8" y="704" width="31.2" height="57.3" fill="#1a8fcb"/><rect x="431.8" y="673.5" width="31.2" height="28.7" fill="#9a74cf"/><rect x="431.8" y="650.3" width="31.2" height="21.4" fill="#c6506f"/><rect x="431.8" y="639.8" width="31.2" height="8.2" fill="#1bbab6"/><rect x="538.6" y="704" width="31.2" height="57.3" fill="#1a8fcb"/><rect x="538.6" y="674.8" width="31.2" height="27.2" fill="#9a74cf"/><rect x="538.6" y="651.6" width="31.2" height="21.0" fill="#c6506f"/><rect x="538.6" y="628.9" width="31.2" height="20.9" fill="#1bbab6"/><rect x="645.2" y="714" width="31.2" height="47.3" fill="#1a8fcb"/><rect x="645.2" y="676.2" width="31.2" height="35.5" fill="#9a74cf"/><rect x="645.2" y="647.5" width="31.2" height="26.5" fill="#c6506f"/><rect x="645.2" y="613.8" width="31.2" height="31.9" fill="#1bbab6"/><rect x="81.8" y="760.2" width="631.5999999999999" height="2.2" fill="rgba(200,195,245,0.10)"/><rect x="81.8" y="711.6" width="631.5999999999999" height="2.2" fill="rgba(200,195,245,0.10)"/><rect x="81.8" y="663.0" width="631.5999999999999" height="2.2" fill="rgba(200,195,245,0.10)"/><rect x="81.8" y="614.4" width="631.5999999999999" height="2.2" fill="rgba(200,195,245,0.10)"/><rect x="81.8" y="565.8" width="631.5999999999999" height="2.2" fill="rgba(200,195,245,0.10)"/><rect x="83.7" y="566.9" width="2.2" height="206.4" fill="rgba(200,195,245,0.10)"/><rect x="188.3" y="566.9" width="2.2" height="206.4" fill="rgba(200,195,245,0.10)"/><rect x="292.9" y="566.9" width="2.2" height="206.4" fill="rgba(200,195,245,0.10)"/><rect x="397.5" y="566.9" width="2.2" height="206.4" fill="rgba(200,195,245,0.10)"/><rect x="502.1" y="566.9" width="2.2" height="206.4" fill="rgba(200,195,245,0.10)"/><rect x="606.7" y="566.9" width="2.2" height="206.4" fill="rgba(200,195,245,0.10)"/><rect x="711.3" y="566.9" width="2.2" height="206.4" fill="rgba(200,195,245,0.10)"/></svg>
<div class="t" style="left:59.70px;top:536.81px;font-size:13.5px;line-height:13.5px;color:#a48cd4;transform:scaleX(0.8205);">ASSETS</div>
<div class="r" style="left:122.3px;top:539.4000000000001px;width:7.6px;height:7.6px;border-radius:50%;background:#25c5d0;"></div>
<div class="t" style="left:135.00px;top:537.64px;font-size:12px;line-height:12px;color:#ece8f8;transform:scaleX(0.9319);">Devices With Software</div>
<div class="r" style="left:282.2px;top:540.7px;width:7.6px;height:7.6px;border-radius:50%;background:#e0607a;"></div>
<div class="t" style="left:295.00px;top:538.64px;font-size:12px;line-height:12px;color:#ece8f8;transform:scaleX(0.9461);">Devices Without Software</div>
<div class="r" style="left:443.2px;top:540.7px;width:7.6px;height:7.6px;border-radius:50%;background:#a57fdc;"></div>
<div class="t" style="left:455.00px;top:538.64px;font-size:12px;line-height:12px;color:#ece8f8;transform:scaleX(0.9371);">Users With Software</div>
<div class="r" style="left:583.2px;top:541.7px;width:7.6px;height:7.6px;border-radius:50%;background:#2aa8e8;"></div>
<div class="t" style="left:595.70px;top:539.64px;font-size:12px;line-height:12px;color:#ece8f8;transform:scaleX(0.9543);">Users Without Software</div>
<div class="t" style="left:65.98px;top:561.58px;font-size:11.3px;line-height:11.3px;color:#d8d0e8;transform:scaleX(0.9985);-webkit-text-stroke:0.25px #d8d0e8;">4K</div>
<div class="t" style="left:65.98px;top:614.48px;font-size:11.3px;line-height:11.3px;color:#d8d0e8;transform:scaleX(0.9985);-webkit-text-stroke:0.25px #d8d0e8;">3K</div>
<div class="t" style="left:67.87px;top:667.28px;font-size:11.3px;line-height:11.3px;color:#d8d0e8;transform:scaleX(0.9964);-webkit-text-stroke:0.25px #d8d0e8;">2k</div>
<div class="t" style="left:67.87px;top:720.08px;font-size:11.3px;line-height:11.3px;color:#d8d0e8;transform:scaleX(0.9964);-webkit-text-stroke:0.25px #d8d0e8;">1k</div>
<div class="t" style="left:73.52px;top:773.08px;font-size:11.3px;line-height:11.3px;color:#d8d0e8;transform:scaleX(1.0021);-webkit-text-stroke:0.25px #d8d0e8;">0</div>
<div class="t" style="left:113.90px;top:775.51px;font-size:13.5px;line-height:13.5px;color:#d8d0e8;transform:scaleX(0.8579);">APR</div>
<div class="t" style="left:113.56px;top:791.43px;font-size:11px;line-height:11px;color:#b79be0;transform:scaleX(0.9999);">3612</div>
<div class="t" style="left:219.40px;top:775.51px;font-size:13.5px;line-height:13.5px;color:#d8d0e8;transform:scaleX(0.9193);">MAY</div>
<div class="t" style="left:220.16px;top:791.43px;font-size:11px;line-height:11px;color:#b79be0;transform:scaleX(0.9999);">3831</div>
<div class="t" style="left:329.25px;top:775.51px;font-size:13.5px;line-height:13.5px;color:#d8d0e8;transform:scaleX(0.8645);">JUN</div>
<div class="t" style="left:328.36px;top:791.43px;font-size:11px;line-height:11px;color:#b79be0;transform:scaleX(0.9999);">2907</div>
<div class="t" style="left:437.40px;top:775.51px;font-size:13.5px;line-height:13.5px;color:#d8d0e8;transform:scaleX(0.7907);">JUL</div>
<div class="t" style="left:434.66px;top:791.43px;font-size:11px;line-height:11px;color:#b79be0;transform:scaleX(0.9999);">2789</div>
<div class="t" style="left:541.55px;top:775.51px;font-size:13.5px;line-height:13.5px;color:#d8d0e8;transform:scaleX(0.8725);">AUG</div>
<div class="t" style="left:542.06px;top:791.43px;font-size:11px;line-height:11px;color:#b79be0;transform:scaleX(0.9999);">2914</div>
<div class="t" style="left:646.30px;top:775.51px;font-size:13.5px;line-height:13.5px;color:#d8d0e8;transform:scaleX(0.8344);">SEPT</div>
<div class="t" style="left:648.76px;top:791.43px;font-size:11px;line-height:11px;color:#b79be0;transform:scaleX(0.9999);">3038</div>
<div class="r" style="left:783.1px;top:508.20000000000005px;width:36.6px;height:36.6px;border:2.2px solid #e0607a;border-radius:50%;"></div>
<div class="t" style="left:790.00px;top:520.69px;font-size:16.8px;line-height:16.8px;color:#e0607a;transform:scaleX(0.9691);">124</div>
<div class="r" style="left:940.9px;top:508.20000000000005px;width:36.6px;height:36.6px;border:2.2px solid #9b6fd6;border-radius:50%;"></div>
<div class="t" style="left:956.87px;top:520.69px;font-size:16.8px;line-height:16.8px;color:#c9b8f2;transform:scaleX(0.9720);">5</div>
<div class="r" style="left:1124.6px;top:508.5px;width:36.6px;height:36.6px;border:2.2px solid #e0607a;border-radius:50%;"></div>
<div class="t" style="left:1136.04px;top:520.69px;font-size:16.8px;line-height:16.8px;color:#e0607a;transform:scaleX(0.9720);">30</div>
<div class="r" style="left:1318.3px;top:508.4px;width:36.6px;height:36.6px;border:2.2px solid #27bfc6;border-radius:50%;"></div>
<div class="t" style="left:1334.27px;top:520.69px;font-size:16.8px;line-height:16.8px;color:#27bfc6;transform:scaleX(0.9720);">3</div>
<div class="t" style="left:835.40px;top:514.91px;font-size:13.5px;line-height:13.5px;color:#ece8f8;transform:scaleX(0.9823);">Virtual Assets</div>
<div class="t" style="left:835.40px;top:530.91px;font-size:13.5px;line-height:13.5px;color:#ece8f8;transform:scaleX(1.0011);">With No Host</div>
<div class="t" style="left:992.70px;top:512.91px;font-size:13.5px;line-height:13.5px;color:#ece8f8;transform:scaleX(0.9689);">2-Core Installs</div>
<div class="t" style="left:992.70px;top:528.91px;font-size:13.5px;line-height:13.5px;color:#ece8f8;transform:scaleX(0.9978);">On Multi-proc VM</div>
<div class="t" style="left:1176.90px;top:512.91px;font-size:13.5px;line-height:13.5px;color:#ece8f8;transform:scaleX(1.0025);">Auto-mapping With</div>
<div class="t" style="left:1179.30px;top:528.91px;font-size:13.5px;line-height:13.5px;color:#ece8f8;transform:scaleX(0.9930);">Unmapped Installs</div>
<div class="t" style="left:1372.50px;top:512.91px;font-size:13.5px;line-height:13.5px;color:#ece8f8;transform:scaleX(0.9972);">Auto-mapping With</div>
<div class="t" style="left:1372.50px;top:528.91px;font-size:13.5px;line-height:13.5px;color:#ece8f8;transform:scaleX(0.9747);">Surplus Allowance</div>
<svg width="1500" height="844"><defs><linearGradient id="gb" gradientUnits="userSpaceOnUse" x1="0" y1="655" x2="0" y2="762"><stop offset="0" stop-color="#17b9a8"/><stop offset="0.25" stop-color="#0fa4c2"/><stop offset="0.5" stop-color="#1a8fc8"/><stop offset="0.75" stop-color="#3d80cc"/><stop offset="1" stop-color="#6c6ecb"/></linearGradient><linearGradient id="gp" gradientUnits="userSpaceOnUse" x1="0" y1="728" x2="0" y2="762"><stop offset="0" stop-color="#d94f9c"/><stop offset="0.5" stop-color="#d96488"/><stop offset="1" stop-color="#e07276"/></linearGradient></defs><path d="M819.7,689.2 C822.7,689.5 830.9,690.2 837.7,690.8 C844.5,691.4 852.8,692.3 860.3,693.0 C867.8,693.7 875.4,694.3 883.0,694.9 C890.6,695.5 898.2,696.2 905.7,696.5 C913.2,696.8 920.8,697.2 928.3,696.7 C935.8,696.2 943.4,694.5 951.0,693.3 C958.6,692.0 966.2,690.5 973.7,689.2 C981.2,687.9 988.8,686.3 996.3,685.3 C1003.8,684.2 1012.2,683.4 1019.0,682.9 C1025.8,682.4 1031.0,682.1 1037.1,682.2 C1043.1,682.3 1048.9,682.6 1055.3,683.5 C1061.7,684.4 1068.5,685.8 1075.7,687.6 C1082.9,689.4 1090.8,692.2 1098.3,694.4 C1105.8,696.5 1114.6,699.0 1121.0,700.5 C1127.4,702.0 1131.2,702.8 1136.9,703.5 C1142.6,704.2 1149.0,704.4 1155.0,704.5 C1161.0,704.6 1166.0,704.9 1172.7,704.4 C1179.4,703.9 1187.8,702.9 1195.3,701.7 C1202.8,700.5 1210.4,698.6 1218.0,697.3 C1225.6,696.0 1233.5,694.8 1240.7,693.7 C1247.9,692.7 1253.5,692.1 1261.0,691.0 C1268.5,689.9 1278.0,688.9 1286.0,686.9 C1294.0,684.9 1301.2,681.9 1308.7,679.0 C1316.2,676.1 1323.8,672.2 1331.3,669.3 C1338.8,666.4 1347.2,663.4 1354.0,661.5 C1360.8,659.6 1366.4,658.8 1372.1,658.1 C1377.8,657.4 1382.7,657.3 1388.0,657.5 C1393.3,657.7 1398.2,658.3 1403.9,659.1 C1409.6,659.9 1415.2,661.0 1422.0,662.2 C1428.8,663.4 1437.2,665.2 1444.7,666.5 C1452.2,667.8 1461.0,668.9 1467.3,669.9 C1473.6,670.9 1480.1,671.8 1482.7,672.2 L1482.7,762.5 L819.7,762.5 Z" fill="url(#gb)"/><path d="M819.7,738.4 C822.7,738.0 830.9,736.9 837.7,736.1 C844.5,735.3 852.8,734.2 860.3,733.4 C867.8,732.6 875.4,732.0 883.0,731.4 C890.6,730.8 898.2,730.3 905.7,730.0 C913.2,729.7 920.8,729.5 928.3,729.8 C935.8,730.1 943.4,730.6 951.0,731.6 C958.6,732.6 966.2,734.1 973.7,735.7 C981.2,737.3 988.8,739.6 996.3,741.3 C1003.8,743.0 1011.4,744.6 1019.0,745.9 C1026.6,747.1 1034.2,748.2 1041.7,748.8 C1049.2,749.4 1056.8,749.7 1064.3,749.7 C1071.8,749.7 1079.4,749.5 1087.0,748.8 C1094.6,748.0 1102.2,746.6 1109.7,745.2 C1117.2,743.8 1125.2,741.9 1132.3,740.6 C1139.3,739.3 1145.3,738.3 1152.0,737.2 C1158.7,736.1 1165.5,734.5 1172.7,733.8 C1179.9,733.1 1187.8,732.9 1195.3,732.9 C1202.8,732.9 1210.4,733.3 1218.0,733.8 C1225.6,734.3 1233.2,735.1 1240.7,735.7 C1248.2,736.3 1255.8,737.2 1263.3,737.5 C1270.8,737.8 1278.4,737.9 1286.0,737.5 C1293.6,737.1 1301.2,736.1 1308.7,735.2 C1316.2,734.3 1323.8,733.2 1331.3,732.3 C1338.8,731.3 1346.4,730.1 1354.0,729.5 C1361.6,728.9 1369.2,728.4 1376.7,728.4 C1384.2,728.4 1391.8,728.9 1399.3,729.3 C1406.8,729.7 1414.4,730.3 1422.0,730.7 C1429.6,731.1 1437.2,731.4 1444.7,731.8 C1452.2,732.2 1461.0,732.6 1467.3,732.9 C1473.6,733.2 1480.1,733.6 1482.7,733.8 L1482.7,762.5 L819.7,762.5 Z" fill="url(#gp)"/><rect x="818.7" y="761.5" width="665.0" height="2" fill="rgba(170,165,235,0.25)" opacity="0.45"/><rect x="818.7" y="733.6" width="665.0" height="2" fill="rgba(170,165,235,0.25)" opacity="0.45"/><rect x="818.7" y="705.8" width="665.0" height="2" fill="rgba(170,165,235,0.25)" opacity="0.45"/><rect x="818.7" y="678.0" width="665.0" height="2" fill="rgba(170,165,235,0.25)" opacity="1"/><rect x="818.7" y="650.1" width="665.0" height="2" fill="rgba(170,165,235,0.25)" opacity="1"/><rect x="818.7" y="651.2" width="2" height="122.3" fill="rgba(170,165,235,0.25)"/><rect x="929.2" y="651.2" width="2" height="122.3" fill="rgba(170,165,235,0.25)"/><rect x="1039.7" y="651.2" width="2" height="122.3" fill="rgba(170,165,235,0.25)"/><rect x="1150.2" y="651.2" width="2" height="122.3" fill="rgba(170,165,235,0.25)"/><rect x="1260.7" y="651.2" width="2" height="122.3" fill="rgba(170,165,235,0.25)"/><rect x="1371.2" y="651.2" width="2" height="122.3" fill="rgba(170,165,235,0.25)"/><rect x="1481.7" y="651.2" width="2" height="122.3" fill="rgba(170,165,235,0.25)"/></svg>
<div class="t" style="left:788.80px;top:624.96px;font-size:14.2px;line-height:14.2px;color:#b79be0;transform:scaleX(0.8304);">SOFTWARE LIABILITY</div>
<div class="r" style="left:1202.8px;top:626.6px;width:7.6px;height:7.6px;border-radius:50%;background:#2aa8e8;"></div>
<div class="t" style="left:1215.30px;top:624.64px;font-size:12px;line-height:12px;color:#ece8f8;transform:scaleX(0.9502);">Total Software Installed</div>
<div class="r" style="left:1358.9px;top:627.6px;width:7.6px;height:7.6px;border-radius:50%;background:#e0607a;"></div>
<div class="t" style="left:1371.40px;top:625.64px;font-size:12px;line-height:12px;color:#ece8f8;transform:scaleX(0.9514);">Total Software Liability</div>
<div class="t" style="left:793.89px;top:645.74px;font-size:12px;line-height:12px;color:#d8d0e8;transform:scaleX(0.9697);-webkit-text-stroke:0.2px #d8d0e8;">80K</div>
<div class="t" style="left:793.89px;top:672.34px;font-size:12px;line-height:12px;color:#d8d0e8;transform:scaleX(0.9697);-webkit-text-stroke:0.2px #d8d0e8;">60K</div>
<div class="t" style="left:795.83px;top:698.94px;font-size:12px;line-height:12px;color:#d8d0e8;transform:scaleX(0.9684);-webkit-text-stroke:0.2px #d8d0e8;">40k</div>
<div class="t" style="left:795.83px;top:725.54px;font-size:12px;line-height:12px;color:#d8d0e8;transform:scaleX(0.9684);-webkit-text-stroke:0.2px #d8d0e8;">20k</div>
<div class="t" style="left:808.13px;top:753.44px;font-size:12px;line-height:12px;color:#d8d0e8;transform:scaleX(0.9720);-webkit-text-stroke:0.2px #d8d0e8;">0</div>
<div class="t" style="left:865.00px;top:777.21px;font-size:13.5px;line-height:13.5px;color:#d8d0e8;transform:scaleX(0.8579);">APR</div>
<div class="t" style="left:859.68px;top:793.14px;font-size:12px;line-height:12px;color:#3fa0e0;transform:scaleX(0.9596);">56,124</div>
<div class="t" style="left:974.70px;top:777.21px;font-size:13.5px;line-height:13.5px;color:#d8d0e8;transform:scaleX(0.9193);">MAY</div>
<div class="t" style="left:970.48px;top:793.14px;font-size:12px;line-height:12px;color:#3fa0e0;transform:scaleX(0.9596);">53,417</div>
<div class="t" style="left:1087.15px;top:777.21px;font-size:13.5px;line-height:13.5px;color:#d8d0e8;transform:scaleX(0.8645);">JUN</div>
<div class="t" style="left:1081.28px;top:793.14px;font-size:12px;line-height:12px;color:#3fa0e0;transform:scaleX(0.9596);">47,098</div>
<div class="t" style="left:1199.80px;top:777.21px;font-size:13.5px;line-height:13.5px;color:#d8d0e8;transform:scaleX(0.7907);">JUL</div>
<div class="t" style="left:1192.51px;top:793.14px;font-size:12px;line-height:12px;color:#3fa0e0;transform:scaleX(0.9598);">45,311</div>
<div class="t" style="left:1307.35px;top:777.21px;font-size:13.5px;line-height:13.5px;color:#d8d0e8;transform:scaleX(0.8725);">AUG</div>
<div class="t" style="left:1302.88px;top:793.14px;font-size:12px;line-height:12px;color:#3fa0e0;transform:scaleX(0.9596);">72,614</div>
<div class="t" style="left:1416.20px;top:777.21px;font-size:13.5px;line-height:13.5px;color:#d8d0e8;transform:scaleX(0.8344);">SEPT</div>
<div class="t" style="left:1413.68px;top:793.14px;font-size:12px;line-height:12px;color:#3fa0e0;transform:scaleX(0.9596);">63,746</div>
<svg width="1500" height="844" fill="none" stroke="#9e82d2" stroke-width="1.6" stroke-linecap="round" stroke-linejoin="round">
<path d="M18.2 95.5 l4.2 4.5 l-4.2 4.5 M23 95.5 l4.2 4.5 l-4.2 4.5" stroke="#9a86d0" stroke-width="1.3" stroke-linecap="butt" stroke-linejoin="miter"/>
<path d="M9.5 134 H6 V143.5 H19.5 V134 H16 M12.7 139.5 V128 M9.2 131.5 L12.7 128 L16.2 131.5"/>
<path d="M6 169.8 H17.5 L20.3 172.6 V184 H6 Z"/><path d="M9 170.3 V174.8 H16 V170.3 Z" fill="#9e82d2" stroke-width="1"/><path d="M6.5 178.3 H19.8" stroke-width="2.4" stroke-linecap="butt"/>
<path d="M9 212.5 V210.8 a1.3 1.3 0 0 0 -1.3 -1.3 H4.8 a1.3 1.3 0 0 0 -1.3 1.3 V221 a1.3 1.3 0 0 0 1.3 1.3 H8.5 M11 214.5 H16.5 L20.8 218.8 V225.3 a1.3 1.3 0 0 1 -1.3 1.3 H11 a1.3 1.3 0 0 1 -1.3 -1.3 V215.8 a1.3 1.3 0 0 1 1.3 -1.3 Z"/>
<path d="M11.5 256 H7 a1.2 1.2 0 0 0 -1.2 1.2 V266.5 a1.2 1.2 0 0 0 1.2 1.2 H19.8 a1.2 1.2 0 0 0 1.2 -1.2 V261 M9 264 C10 258.5 14 256 19.5 256 M16.5 252.5 L20.5 256 L16.5 259.5"/>
<path d="M1392 36.3 l5 5.6 l5 -5.6" stroke="#a595d4" stroke-width="1.4" stroke-linecap="butt" stroke-linejoin="miter"/>
</svg>
<svg width="1500" height="844"><path d="M12.41,807.46 L14.59,807.46 L14.64,809.69 L16.12,810.08 L17.27,808.18 L19.16,809.27 L18.09,811.23 L19.17,812.31 L21.13,811.24 L22.22,813.13 L20.32,814.28 L20.71,815.76 L22.94,815.81 L22.94,817.99 L20.71,818.04 L20.32,819.52 L22.22,820.67 L21.13,822.56 L19.17,821.49 L18.09,822.57 L19.16,824.53 L17.27,825.62 L16.12,823.72 L14.64,824.11 L14.59,826.34 L12.41,826.34 L12.36,824.11 L10.88,823.72 L9.73,825.62 L7.84,824.53 L8.91,822.57 L7.83,821.49 L5.87,822.56 L4.78,820.67 L6.68,819.52 L6.29,818.04 L4.06,817.99 L4.06,815.81 L6.29,815.76 L6.68,814.28 L4.78,813.13 L5.87,811.24 L7.83,812.31 L8.91,811.23 L7.84,809.27 L9.73,808.18 L10.88,810.08 L12.36,809.69 Z M18.4,816.9 a4.9,4.9 0 1,0 -9.8,0 a4.9,4.9 0 1,0 9.8,0 Z" fill="#9878c8" fill-rule="evenodd"/></svg>
<svg width="1500" height="844"><path d="M1474.51,29.56 L1476.69,29.56 L1476.82,31.30 L1478.40,31.72 L1479.37,30.28 L1481.26,31.37 L1480.51,32.94 L1481.66,34.09 L1483.23,33.34 L1484.32,35.23 L1482.88,36.20 L1483.30,37.78 L1485.04,37.91 L1485.04,40.09 L1483.30,40.22 L1482.88,41.80 L1484.32,42.77 L1483.23,44.66 L1481.66,43.91 L1480.51,45.06 L1481.26,46.63 L1479.37,47.72 L1478.40,46.28 L1476.82,46.70 L1476.69,48.44 L1474.51,48.44 L1474.38,46.70 L1472.80,46.28 L1471.83,47.72 L1469.94,46.63 L1470.69,45.06 L1469.54,43.91 L1467.97,44.66 L1466.88,42.77 L1468.32,41.80 L1467.90,40.22 L1466.16,40.09 L1466.16,37.91 L1467.90,37.78 L1468.32,36.20 L1466.88,35.23 L1467.97,33.34 L1469.54,34.09 L1470.69,32.94 L1469.94,31.37 L1471.83,30.28 L1472.80,31.72 L1474.38,31.30 Z M1480.6999999999998,39.0 a5.1,5.1 0 1,0 -10.2,0 a5.1,5.1 0 1,0 10.2,0 Z" fill="#937bca" fill-rule="evenodd"/></svg>
<div class="t" style="left:1431.00px;top:27.78px;font-size:24px;line-height:24px;color:#957dcc;font-weight:700;transform:scaleX(0.7650);-webkit-text-stroke:0.5px #957dcc;">?</div>
<svg width="1500" height="844" fill="none" stroke="#9a86cc" stroke-width="1.2"><path d="M0.3 3.2 L9 1.8 V11.8 L0.3 10.6 M2.5 5.2 L6.8 4.6 V9.2 L2.5 8.8 Z" stroke-width="1.3"/></svg>
</body></html>
